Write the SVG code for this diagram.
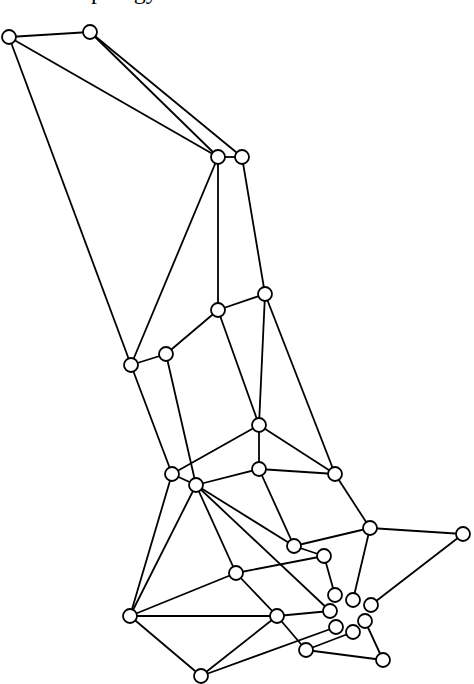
<svg xmlns="http://www.w3.org/2000/svg" width="474" height="684" viewBox="0 0 474 684">
<style>
.e{stroke:#000;stroke-width:1.8;fill:none}
.n{fill:#fff;stroke:#000;stroke-width:1.8}
.t{font-family:"Liberation Serif","Times New Roman",serif;font-size:24px;fill:#000}
</style>
<rect width="474" height="684" fill="#fff"/>
<text class="t" x="66" y="-1">Topology</text>
<g id="connectors">
<line class="e" x1="9" y1="37" x2="90" y2="32"/>
<line class="e" x1="9" y1="37" x2="218" y2="157"/>
<line class="e" x1="9" y1="37" x2="131" y2="365"/>
<line class="e" x1="90" y1="32" x2="218" y2="157"/>
<line class="e" x1="90" y1="32" x2="242" y2="157"/>
<line class="e" x1="218" y1="157" x2="242" y2="157"/>
<line class="e" x1="218" y1="157" x2="131" y2="365"/>
<line class="e" x1="218" y1="157" x2="218" y2="310"/>
<line class="e" x1="242" y1="157" x2="265" y2="294"/>
<line class="e" x1="218" y1="310" x2="265" y2="294"/>
<line class="e" x1="218" y1="310" x2="166" y2="354"/>
<line class="e" x1="166" y1="354" x2="131" y2="365"/>
<line class="e" x1="218" y1="310" x2="259" y2="425"/>
<line class="e" x1="265" y1="294" x2="259" y2="425"/>
<line class="e" x1="265" y1="294" x2="335" y2="474"/>
<line class="e" x1="131" y1="365" x2="172" y2="474"/>
<line class="e" x1="166" y1="354" x2="196" y2="485"/>
<line class="e" x1="259" y1="425" x2="172" y2="474"/>
<line class="e" x1="259" y1="425" x2="259" y2="469"/>
<line class="e" x1="259" y1="425" x2="335" y2="474"/>
<line class="e" x1="172" y1="474" x2="196" y2="485"/>
<line class="e" x1="196" y1="485" x2="259" y2="469"/>
<line class="e" x1="259" y1="469" x2="335" y2="474"/>
<line class="e" x1="259" y1="469" x2="294" y2="546"/>
<line class="e" x1="335" y1="474" x2="370" y2="528"/>
<line class="e" x1="370" y1="528" x2="463" y2="534"/>
<line class="e" x1="370" y1="528" x2="294" y2="546"/>
<line class="e" x1="370" y1="528" x2="353" y2="600"/>
<line class="e" x1="463" y1="534" x2="371" y2="605"/>
<line class="e" x1="294" y1="546" x2="324" y2="556"/>
<line class="e" x1="324" y1="556" x2="335" y2="595"/>
<line class="e" x1="196" y1="485" x2="294" y2="546"/>
<line class="e" x1="196" y1="485" x2="330" y2="611"/>
<line class="e" x1="196" y1="485" x2="236" y2="573"/>
<line class="e" x1="196" y1="485" x2="130" y2="616"/>
<line class="e" x1="172" y1="474" x2="130" y2="616"/>
<line class="e" x1="236" y1="573" x2="324" y2="556"/>
<line class="e" x1="236" y1="573" x2="130" y2="616"/>
<line class="e" x1="236" y1="573" x2="277" y2="616"/>
<line class="e" x1="130" y1="616" x2="277" y2="616"/>
<line class="e" x1="277" y1="616" x2="330" y2="611"/>
<line class="e" x1="277" y1="616" x2="306" y2="650"/>
<line class="e" x1="277" y1="616" x2="201" y2="676"/>
<line class="e" x1="130" y1="616" x2="201" y2="676"/>
<line class="e" x1="201" y1="676" x2="336" y2="627"/>
<line class="e" x1="306" y1="650" x2="353" y2="632"/>
<line class="e" x1="306" y1="650" x2="383" y2="660"/>
<line class="e" x1="365" y1="621" x2="383" y2="660"/>
</g>
<g id="nA"><circle class="n" cx="9" cy="37" r="7"/></g>
<g id="nB"><circle class="n" cx="90" cy="32" r="7"/></g>
<g id="nC"><circle class="n" cx="218" cy="157" r="7"/></g>
<g id="nD"><circle class="n" cx="242" cy="157" r="7"/></g>
<g id="nE"><circle class="n" cx="265" cy="294" r="7"/></g>
<g id="nF"><circle class="n" cx="218" cy="310" r="7"/></g>
<g id="nG"><circle class="n" cx="166" cy="354" r="7"/></g>
<g id="nH"><circle class="n" cx="131" cy="365" r="7"/></g>
<g id="nI"><circle class="n" cx="259" cy="425" r="7"/></g>
<g id="nJ"><circle class="n" cx="172" cy="474" r="7"/></g>
<g id="nK"><circle class="n" cx="196" cy="485" r="7"/></g>
<g id="nL"><circle class="n" cx="259" cy="469" r="7"/></g>
<g id="nM"><circle class="n" cx="335" cy="474" r="7"/></g>
<g id="nN"><circle class="n" cx="370" cy="528" r="7"/></g>
<g id="nO"><circle class="n" cx="463" cy="534" r="7"/></g>
<g id="nP"><circle class="n" cx="294" cy="546" r="7"/></g>
<g id="nQ"><circle class="n" cx="324" cy="556" r="7"/></g>
<g id="nR"><circle class="n" cx="236" cy="573" r="7"/></g>
<g id="nS"><circle class="n" cx="335" cy="595" r="7"/></g>
<g id="nT"><circle class="n" cx="353" cy="600" r="7"/></g>
<g id="nU"><circle class="n" cx="371" cy="605" r="7"/></g>
<g id="nV"><circle class="n" cx="130" cy="616" r="7"/></g>
<g id="nW"><circle class="n" cx="277" cy="616" r="7"/></g>
<g id="nX"><circle class="n" cx="330" cy="611" r="7"/></g>
<g id="nY"><circle class="n" cx="365" cy="621" r="7"/></g>
<g id="nZ"><circle class="n" cx="336" cy="627" r="7"/></g>
<g id="nAA"><circle class="n" cx="353" cy="632" r="7"/></g>
<g id="nAB"><circle class="n" cx="306" cy="650" r="7"/></g>
<g id="nAC"><circle class="n" cx="383" cy="660" r="7"/></g>
<g id="nAD"><circle class="n" cx="201" cy="676" r="7"/></g>
</svg>
